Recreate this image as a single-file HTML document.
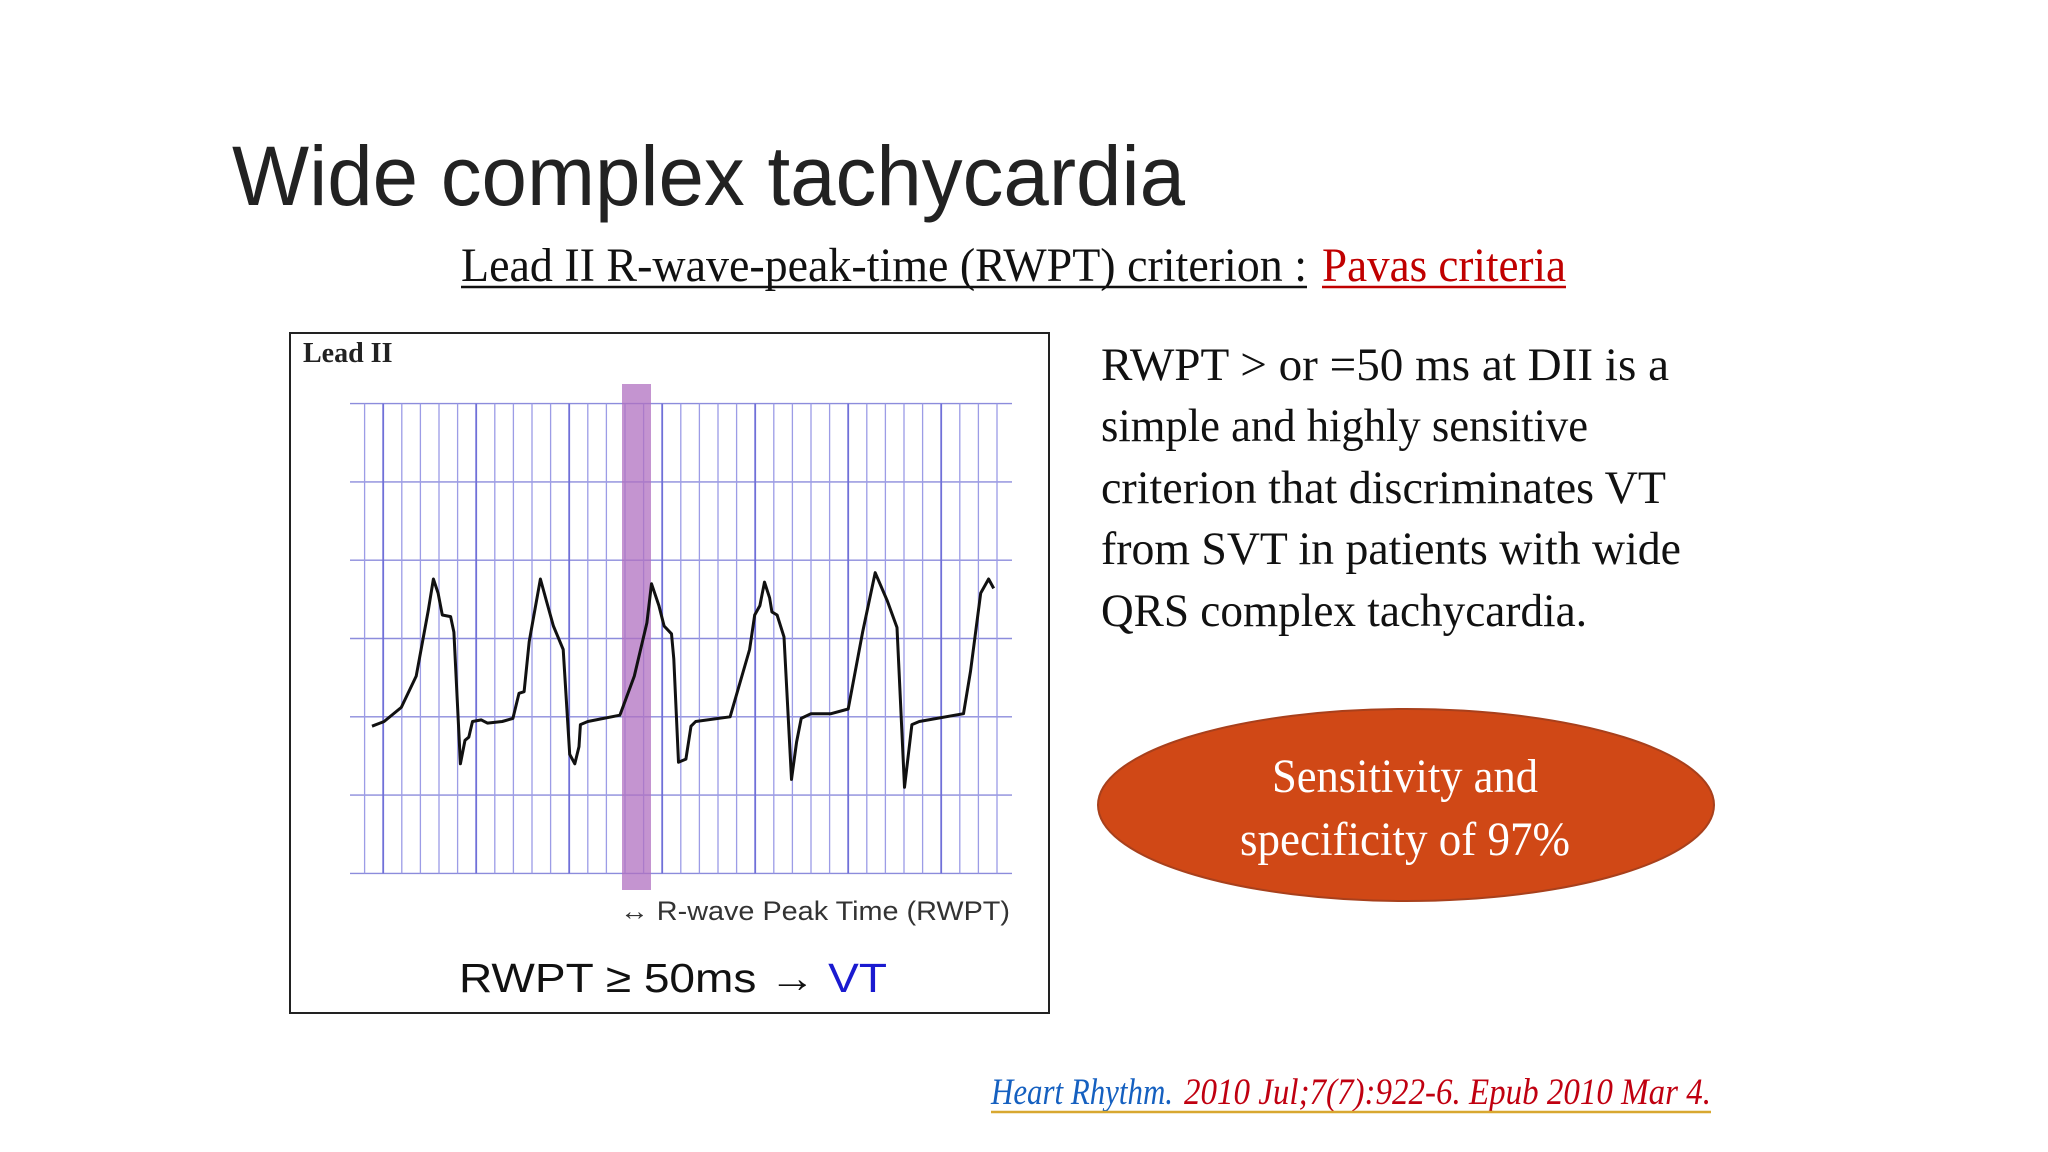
<!DOCTYPE html>
<html><head><meta charset="utf-8"><style>
html,body{margin:0;padding:0;background:#fff;}
svg{display:block;}
</style></head><body>
<svg id="slide" width="2048" height="1152" viewBox="0 0 2048 1152" xmlns="http://www.w3.org/2000/svg">
<rect width="2048" height="1152" fill="#fff"/>
<text x="232" y="205" font-family="Liberation Sans, sans-serif" font-size="84" fill="#222" textLength="953" lengthAdjust="spacingAndGlyphs">Wide complex tachycardia</text>
<text x="461" y="281" font-family="Liberation Serif, serif" font-size="48" fill="#111" textLength="846" lengthAdjust="spacingAndGlyphs">Lead II R-wave-peak-time (RWPT) criterion : </text>
<line x1="461" y1="287" x2="1307" y2="287" stroke="#111" stroke-width="2.5"/>
<text x="1322" y="281" font-family="Liberation Serif, serif" font-size="48" fill="#c00000" textLength="244" lengthAdjust="spacingAndGlyphs">Pavas criteria</text>
<line x1="1322" y1="287" x2="1566" y2="287" stroke="#c00000" stroke-width="2.5"/>

<g id="ecg">
<rect x="290" y="333" width="759" height="680" fill="#fff" stroke="#222" stroke-width="2"/>
<text x="303" y="362" font-family="Liberation Serif, serif" font-weight="bold" font-size="28" fill="#222">Lead II</text>
<g id="grid"></g>
<rect x="622" y="384" width="29" height="506" fill="#b070c0" opacity="0.75"/>
<path id="trace" fill="none" stroke="#111" stroke-width="3" stroke-linejoin="round"/>
<text x="620" y="920" font-family="Liberation Sans, sans-serif" font-size="27" fill="#333" textLength="390" lengthAdjust="spacingAndGlyphs">↔ R-wave Peak Time (RWPT)</text>
<text x="459" y="992" font-family="Liberation Sans, sans-serif" font-size="41" fill="#111" textLength="428" lengthAdjust="spacingAndGlyphs">RWPT ≥ 50ms → <tspan fill="#1a1ad0">VT</tspan></text>
</g>

<g font-family="Liberation Serif, serif" font-size="47" fill="#111">
<text x="1101" y="380" textLength="568" lengthAdjust="spacingAndGlyphs">RWPT &gt;  or =50 ms at DII is a</text>
<text x="1101" y="441" textLength="487" lengthAdjust="spacingAndGlyphs">simple and highly sensitive</text>
<text x="1101" y="503" textLength="565" lengthAdjust="spacingAndGlyphs">criterion that discriminates VT</text>
<text x="1101" y="564" textLength="580" lengthAdjust="spacingAndGlyphs">from SVT in patients with wide</text>
<text x="1101" y="626" textLength="486" lengthAdjust="spacingAndGlyphs">QRS complex tachycardia.</text>
</g>

<ellipse cx="1406" cy="805" rx="308" ry="96" fill="#d04816" stroke="#a8401c" stroke-width="2"/>
<text x="1405" y="792" text-anchor="middle" font-family="Liberation Serif, serif" font-size="48" fill="#fff" textLength="266" lengthAdjust="spacingAndGlyphs">Sensitivity and</text>
<text x="1405" y="855" text-anchor="middle" font-family="Liberation Serif, serif" font-size="48" fill="#fff" textLength="330" lengthAdjust="spacingAndGlyphs">specificity of 97%</text>

<text x="991" y="1104" font-family="Liberation Serif, serif" font-style="italic" font-size="37" fill="#1560c0" textLength="182" lengthAdjust="spacingAndGlyphs">Heart Rhythm.</text>
<text x="1184" y="1104" font-family="Liberation Serif, serif" font-style="italic" font-size="37" fill="#c00010" textLength="527" lengthAdjust="spacingAndGlyphs">2010 Jul;7(7):922-6. Epub 2010 Mar 4.</text>
<line x1="991" y1="1112" x2="1711" y2="1112" stroke="#d8a830" stroke-width="2.5"/>
</svg>
<script>
// ECG data: time (ms), amplitude (mV)
const timeMs = [16,42,79,111,137,148,158,167,185,192,206,216,224,232,251,264,296,319,332,343,354,378,391,406,427,441,452,461,464,480,549,580,607,617,633,644,660,665,675,691,702,712,786,828,839,850,860,871,876,887,902,918,929,939,960,1003,1040,1071,1098,1124,1145,1161,1177,1193,1288,1303,1325,1342,1353];
const ampMv = [-0.06,-0.03,0.06,0.26,0.68,0.88,0.79,0.65,0.64,0.54,-0.30,-0.15,-0.13,-0.03,-0.02,-0.04,-0.03,-0.01,0.15,0.16,0.48,0.88,0.74,0.58,0.43,-0.24,-0.30,-0.19,-0.05,-0.03,0.01,0.26,0.60,0.85,0.71,0.58,0.53,0.37,-0.29,-0.27,-0.06,-0.03,0.00,0.43,0.65,0.71,0.86,0.76,0.67,0.65,0.51,-0.40,-0.16,-0.01,0.02,0.02,0.05,0.54,0.92,0.74,0.57,-0.45,-0.05,-0.03,0.02,0.29,0.79,0.88,0.82];
const gridTimeTicks = Array.from({length:35},(_, i)=>i*40);
const gridAmpTicks = [2.0,1.5,1.0,0.5,0.0,-0.5,-1.0];

function xScale(t){return 364.6 + t/40*18.6;}
function yScale(v){return 716.8 - v*156.6;}

const NS='http://www.w3.org/2000/svg';
const grid=document.getElementById('grid');
gridAmpTicks.forEach(v=>{
  const l=document.createElementNS(NS,'line');
  
  
  l.setAttribute('x1',350);l.setAttribute('x2',1012);
  l.setAttribute('y1',yScale(v));l.setAttribute('y2',yScale(v));
  l.setAttribute('stroke','#8c8cdc');l.setAttribute('stroke-width',1.4);
  grid.appendChild(l);
});
gridTimeTicks.forEach((t,i)=>{
  const l=document.createElementNS(NS,'line');
  
  
  l.setAttribute('x1',xScale(t));l.setAttribute('x2',xScale(t));
  l.setAttribute('y1',yScale(2.0));l.setAttribute('y2',yScale(-1.0));
  l.setAttribute('stroke',i%5===1?'#7070d8':'#9c9ce6');l.setAttribute('stroke-width',i%5===1?1.8:1.3);
  grid.appendChild(l);
});
let d='';
timeMs.forEach((t,i)=>{d+=(i?'L':'M')+xScale(t).toFixed(1)+' '+yScale(ampMv[i]).toFixed(1)+' ';});
document.getElementById('trace').setAttribute('d',d);
</script>
</body></html>
